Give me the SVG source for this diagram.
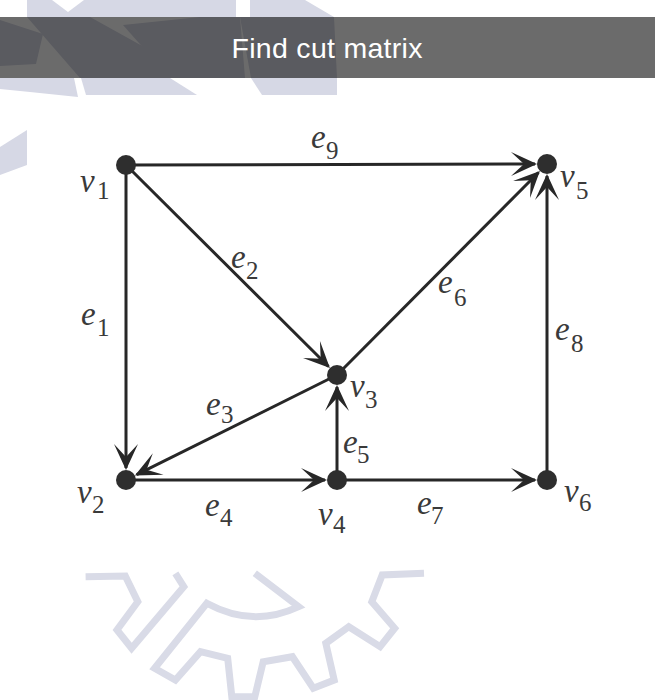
<svg xmlns="http://www.w3.org/2000/svg" width="655" height="700" viewBox="0 0 655 700">
<style>
.wm{fill:#d6d8e5;stroke:none}
.gear{fill:none;stroke:#d9dbe7;stroke-width:7;stroke-linejoin:miter;stroke-linecap:butt}
.edge{stroke:#272727;stroke-width:3;fill:none}
.node{fill:#2e2e2e}
.lab{font-family:"Liberation Serif","Times New Roman",serif;font-style:italic;font-size:33px;fill:#3a3a3a}
.sub{font-family:"Liberation Serif","Times New Roman",serif;font-size:25px;fill:#3a3a3a}
.title{font-family:"Liberation Sans",Arial,sans-serif;font-size:28.5px;fill:#ffffff}
</style>
<defs>
<marker id="arr" markerUnits="userSpaceOnUse" markerWidth="34" markerHeight="30" viewBox="-28 -15 34 30" refX="0" refY="0" orient="auto">
<path d="M2,0 L-24,-12 L-11,0 L-24,12 Z" fill="#272727"/>
</marker>
</defs>
<rect width="655" height="700" fill="#ffffff"/>
<g id="watermark">
<polygon class="wm" points="27,0 52,0 68,12 84,0 236,0 236,17 27,17"/>
<polygon class="wm" points="250,0 305,0 334,17 250,17"/>
<polygon class="wm" points="0,78 74,78 78,97 30,92 0,89"/>
<polygon class="wm" points="81,78 170,78 197,95 86,95"/>
<polygon class="wm" points="251,78 337,78 337,95 262,95"/>
<polygon class="wm" points="0,147 27,130 27,165 0,175"/>
<polygon class="wm" points="27,17 90,17 200,78 80,78"/>
<polygon class="wm" points="0,20 43,34 36,64 0,66"/>
<polygon class="wm" points="123,25 200,17 240,17 245,78 170,78"/>
<polygon class="wm" points="240,17 262,17 337,78 251,78"/>
<polygon class="wm" points="262,17 334,17 337,78 300,78"/>
<path class="gear" d="M85.6,576.7 L125.3,576 L137.8,601.7 L117,630 L131.6,648.3 L183.8,586.7 L175.4,573.3"/>
<path class="gear" d="M254.8,573.3 L298.7,606.7 Q252.7,628.4 206.8,603.3 L154.6,668.3 L175.4,680 L200.5,651.7 L227.7,658.3 L231.8,696.7 L254.8,696.7 L263.2,661.7 L292.4,656.7 L313.3,688.3 L334.2,680 L325.8,643.3 L348.8,626.7 L380.1,646.7 L394.7,628.3 L371.8,601.7 L382.2,575 L424,573.3"/>
</g>
<g id="banner">
<rect x="0" y="17" width="655" height="61" fill="#000000" fill-opacity="0.58"/>
<text class="title" x="327" y="58" text-anchor="middle" textLength="191" lengthAdjust="spacing">Find cut matrix</text>
</g>
<g id="connectors">
<line id="e9" class="edge" x1="126" y1="165" x2="535" y2="164" marker-end="url(#arr)"/>
<line id="e1" class="edge" x1="126" y1="165" x2="126" y2="468" marker-end="url(#arr)"/>
<line id="e2" class="edge" x1="126" y1="165" x2="328.5" y2="366.5" marker-end="url(#arr)"/>
<line id="e6" class="edge" x1="337" y1="375" x2="538.5" y2="172.5" marker-end="url(#arr)"/>
<line id="e8" class="edge" x1="547" y1="480" x2="547" y2="176" marker-end="url(#arr)"/>
<line id="e3" class="edge" x1="337" y1="375" x2="136.7" y2="474.7" marker-end="url(#arr)"/>
<line id="e4" class="edge" x1="126" y1="480" x2="325" y2="480" marker-end="url(#arr)"/>
<line id="e5" class="edge" x1="337" y1="480" x2="337" y2="387" marker-end="url(#arr)"/>
<line id="e7" class="edge" x1="337" y1="480" x2="535" y2="480" marker-end="url(#arr)"/>
</g>
<g id="edge-labels">
<text class="lab" x="311" y="148">e</text><text class="sub" x="326" y="159">9</text>
<text class="lab" x="81" y="325">e</text><text class="sub" x="97" y="336">1</text>
<text class="lab" x="231" y="268">e</text><text class="sub" x="246" y="279">2</text>
<text class="lab" x="438" y="293">e</text><text class="sub" x="454" y="306">6</text>
<text class="lab" x="555" y="340">e</text><text class="sub" x="571" y="352">8</text>
<text class="lab" x="206" y="415">e</text><text class="sub" x="221" y="423">3</text>
<text class="lab" x="343" y="453">e</text><text class="sub" x="357" y="463">5</text>
<text class="lab" x="205" y="516">e</text><text class="sub" x="220" y="526">4</text>
<text class="lab" x="417" y="514">e</text><text class="sub" x="431" y="524">7</text>
</g>
<g id="v1"><circle class="node" cx="126" cy="165" r="10"/><text class="lab" x="80" y="192">v</text><text class="sub" x="97" y="199">1</text></g>
<g id="v5"><circle class="node" cx="547" cy="164" r="10"/><text class="lab" x="560" y="187">v</text><text class="sub" x="576" y="199">5</text></g>
<g id="v3"><circle class="node" cx="337" cy="375" r="10"/><text class="lab" x="350" y="397">v</text><text class="sub" x="365" y="408">3</text></g>
<g id="v2"><circle class="node" cx="126" cy="480" r="10"/><text class="lab" x="77" y="503">v</text><text class="sub" x="92" y="513">2</text></g>
<g id="v4"><circle class="node" cx="337" cy="480" r="10"/><text class="lab" x="318" y="525">v</text><text class="sub" x="333" y="533">4</text></g>
<g id="v6"><circle class="node" cx="547" cy="480" r="10"/><text class="lab" x="564" y="502">v</text><text class="sub" x="579" y="511">6</text></g>
</svg>
